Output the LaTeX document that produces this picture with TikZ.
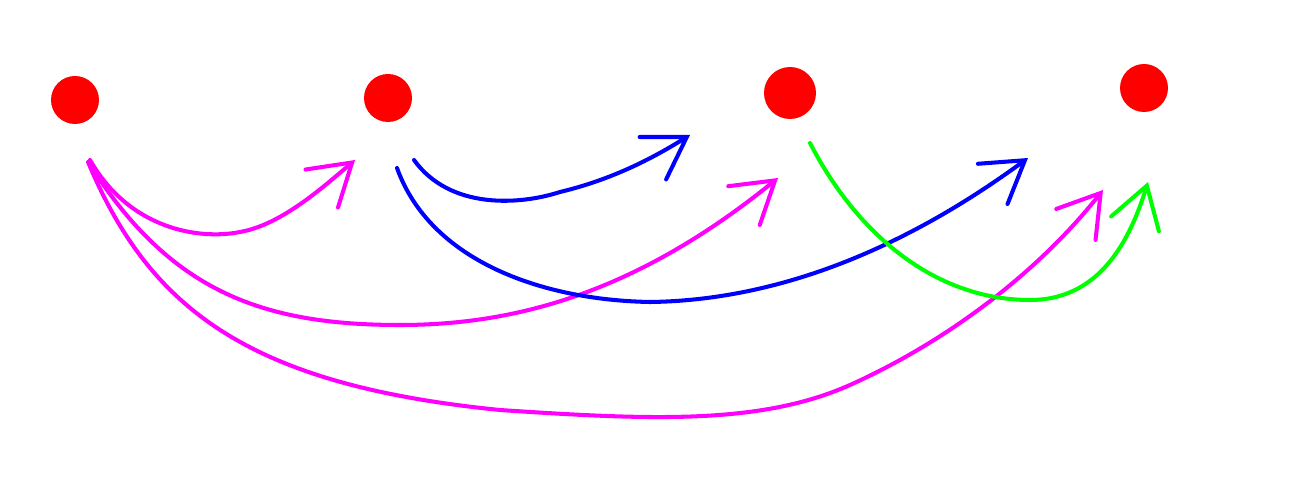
\documentclass[tikz,border=0pt]{standalone}
\usepackage{tikz}
\usetikzlibrary{
  arrows.meta,
  calc,
  positioning,
}
\definecolor{dotred}{RGB}{255, 0, 0}
\definecolor{penpink}{RGB}{255, 0, 255}
\definecolor{penblue}{RGB}{0, 0, 255}
\definecolor{pengreen}{RGB}{0, 255, 0}
\tikzstyle{vertex} = [
  circle,
  fill=dotred,
  inner sep=0pt,
  minimum size=0.96cm,
]
\tikzstyle{stroke} = [
  -{Straight Barb[length=8mm,width=10mm,line cap=round]},
  line width=2.3pt,
  line cap=round,
  line join=round,
]

\begin{document}
\begin{tikzpicture}[x=0.02cm,y=-0.02cm]

      \fill[white] (0,0) rectangle (1310,492);
      \useasboundingbox (0,0) rectangle (1310,492);

      \node[vertex] (dotA) at (75,100) {};
      \node[vertex] (dotB) at (388,98) {};
      \node[vertex,minimum size=1.04cm] (dotC) at (790,93) {};
      \node[vertex] (dotD) at (1144,88) {};

      % from the first dot
      \draw[stroke,penpink] ($(dotA)+(15,60)$) .. controls (130,230) and (200,240) .. (240,232)
        .. controls (280,225) and (320,190) .. ($(dotB)+(-33,62)$);
      \draw[stroke,penpink] ($(dotA)+(15,65)$) .. controls (170,290) and (260,325) .. (400,325)
        .. controls (520,325) and (640,290) .. ($(dotC)+(-12,85)$);
      \draw[stroke,penpink] ($(dotA)+(13,62)$) .. controls (150,310) and (250,385) .. (500,410)
        .. controls (650,420) and (760,425) .. (850,385)
        .. controls (950,340) and (1040,270) .. ($(dotD)+(-41,102)$);

      % from the second dot
      \draw[stroke,penblue] ($(dotB)+(26,62)$) .. controls (450,210) and (520,205) .. (560,192)
        .. controls (610,180) and (650,160) .. ($(dotC)+(-100,42)$);
      \draw[stroke,penblue] ($(dotB)+(9,70)$) .. controls (430,260) and (540,300) .. (650,302)
        .. controls (800,300) and (930,230) .. ($(dotD)+(-116,70)$);

      % from the third dot
      \draw[stroke,pengreen] ($(dotC)+(20,50)$) .. controls (860,240) and (940,300) .. (1030,300)
        .. controls (1100,300) and (1130,240) .. ($(dotD)+(4,94)$);
    \end{tikzpicture}
\end{document}
